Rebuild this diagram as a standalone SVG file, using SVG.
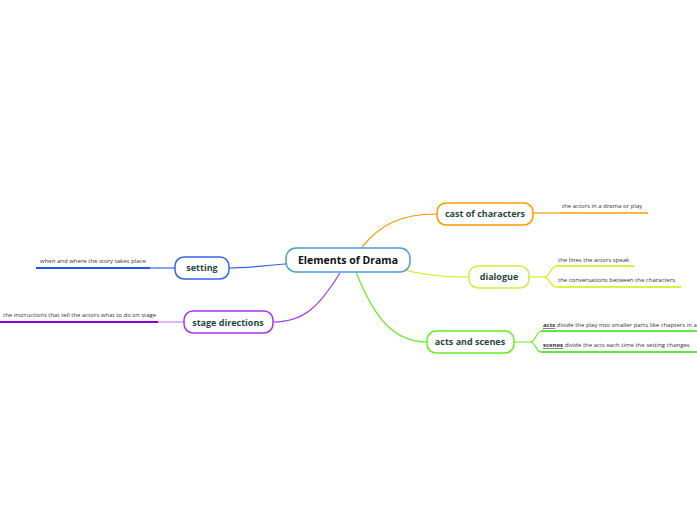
<svg xmlns="http://www.w3.org/2000/svg" width="697" height="520" viewBox="0 0 697 520">
<style>
.n{fill:#fff;stroke-width:1.5}
.t{font-family:"Open Sans","DejaVu Sans",sans-serif;font-size:9px;font-weight:bold;fill:#1f4a3a;text-anchor:middle}
.s{font-family:"Open Sans","DejaVu Sans",sans-serif;font-size:6px;fill:#333}
.c{fill:none;stroke-width:1.2}
</style>
<rect width="697" height="520" fill="#fff"/>
<g id="connectors">
<path class="c" stroke="#ff9900" d="M362,247 C380,225 400,214 437,214"/>
<path class="c" stroke="#ff9900" d="M533,213 L560,213"/>
<path stroke="#ff9900" stroke-width="1.5" d="M560,213 L648,213"/>
<path class="c" stroke="#ccee00" d="M404,270 C430,276 445,277 469,277"/>
<path class="c" stroke="#ccee00" d="M529,277 L544,277 C550,277 550,267 556,266 M544,277 C550,277 550,287 556,287"/>
<path stroke="#ccee00" stroke-width="1.5" d="M556,266 L634,266 M556,287 L681,287"/>
<path class="c" stroke="#66ee22" d="M356,272 C375,320 395,342 427,342"/>
<path class="c" stroke="#66ee22" d="M514,342 L530,342 C536,342 536,332 541,331 M530,342 C536,342 536,352 541,352"/>
<path stroke="#33dd00" stroke-width="1.5" d="M541,331 L697,331 M541,352 L697,352"/>
<path class="c" stroke="#3366ee" d="M286,264 C260,266 245,268 229,268"/>
<path class="c" stroke="#3366ee" d="M175,268 L150,268"/>
<path stroke="#2255ee" stroke-width="1.8" d="M36,268 L150,268"/>
<path class="c" stroke="#aa33ee" d="M340,273 C320,305 305,322 273,322"/>
<path class="c" stroke="#cc88ff" d="M184,322 L158,322"/>
<path stroke="#8800dd" stroke-width="1.8" d="M0,322 L158,322"/>
</g>
<g id="root"><rect class="n" stroke="#4a9ad6" x="286" y="248" width="124" height="24" rx="10"/><text class="t" x="348" y="264" style="font-size:10.5px;fill:#111">Elements of Drama</text></g>
<g id="cast"><rect class="n" stroke="#ff9900" x="437" y="203" width="96" height="22" rx="9"/><text class="t" x="485" y="217">cast of characters</text></g>
<text class="s" x="562" y="208">the actors in a drama or play</text>
<g id="dialogue"><rect class="n" stroke="#ccee44" x="469" y="266" width="60" height="22" rx="9"/><text class="t" x="499" y="280">dialogue</text></g>
<text class="s" x="558" y="262">the lines the actors speak</text>
<text class="s" x="558" y="282">the conversations between the characters</text>
<g id="acts"><rect class="n" stroke="#66ee22" x="427" y="331" width="87" height="22" rx="9"/><text class="t" x="470" y="345">acts and scenes</text></g>
<text class="s" x="543" y="327"><tspan text-decoration="underline" font-weight="bold">acts</tspan>  divide the play into smaller parts like chapters in a</text>
<text class="s" x="543" y="347"><tspan text-decoration="underline" font-weight="bold">scenes</tspan> divide the acts each time the setting changes</text>
<g id="setting"><rect class="n" stroke="#3366ee" x="175" y="257" width="54" height="22" rx="9"/><text class="t" x="202" y="271">setting</text></g>
<text class="s" x="40" y="263">when and where the story takes place</text>
<g id="stage"><rect class="n" stroke="#aa33ee" x="184" y="311" width="89" height="22" rx="9"/><text class="t" x="228" y="326">stage directions</text></g>
<text class="s" x="3" y="317">the instructions that tell the actors what to do on stage</text>
</svg>
